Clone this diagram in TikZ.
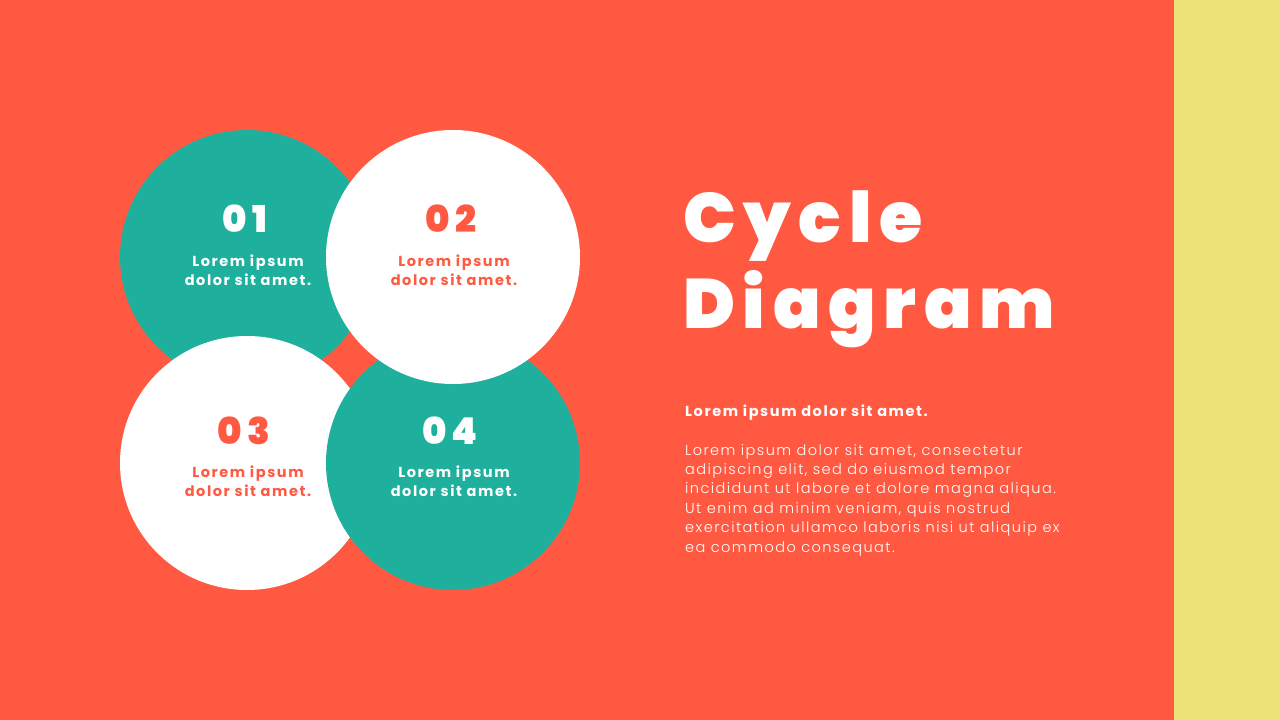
\documentclass[tikz,border=0pt]{standalone}
\usepackage{fontspec}
\setmainfont{Poppins}
\newfontfamily\pblack{Poppins Black}[LetterSpace=11]
\newfontfamily\pnum{Poppins Black}[LetterSpace=14]
\newfontfamily\pbold{Poppins Bold}[LetterSpace=11]
\newfontfamily\plight{Poppins Light}[LetterSpace=10]
\definecolor{coral}{HTML}{FF5A41}
\definecolor{teal}{HTML}{1EB09D}
\definecolor{sand}{HTML}{EDE276}
\begin{document}
\begin{tikzpicture}[x=1pt,y=-1pt,
  disc/.style={circle,minimum size=254pt,inner sep=0pt},
  num/.style={font=\pnum\fontsize{37}{37}\selectfont,anchor=base},
  lbl/.style={font=\pbold\fontsize{14.5}{19}\selectfont,align=center,anchor=north},
  title/.style={font=\pblack\fontsize{70}{70}\selectfont,anchor=base west,text=white,inner sep=0pt},
]
\useasboundingbox (0,0) rectangle (1280,720);
\fill[coral] (0,0) rectangle (1174,720);
\fill[sand] (1174,0) rectangle (1280,720);
% circles in stacking order
\node[disc,fill=teal] (c1) at (247,257) {};
\node[disc,fill=white] (c3) at (247,463) {};
\node[disc,fill=teal] (c4) at (453,463) {};
\node[disc,fill=white] (c2) at (453,257) {};
% numbers
\node[num,text=white] (n1) at (245,232) {01};
\node[num,text=coral] (n2) at (451,232) {02};
\node[num,text=coral] (n3) at (244,444) {03};
\node[num,text=white] (n4) at (450,444) {04};
% labels
\node[lbl,text=white] (l1) at (248,251) {Lorem ipsum\\dolor sit amet.};
\node[lbl,text=coral] (l2) at (454,251) {Lorem ipsum\\dolor sit amet.};
\node[lbl,text=coral] (l3) at (248,462) {Lorem ipsum\\dolor sit amet.};
\node[lbl,text=white] (l4) at (454,462) {Lorem ipsum\\dolor sit amet.};
% title
\node[title] (t1) at (683,242) {Cycle};
\node[title] (t2) at (683,328) {Diagram};
\node[font=\pbold\fontsize{14.5}{19}\selectfont,text=white,anchor=base west,inner sep=0pt] (h) at (685,416) {Lorem ipsum dolor sit amet.};
\node[font=\plight\fontsize{14.5}{19.4}\selectfont,text=white,anchor=north west,inner sep=0pt,align=left] (body) at (685,444)
{Lorem ipsum dolor sit amet, consectetur\\
adipiscing elit, sed do eiusmod tempor\\
incididunt ut labore et dolore magna aliqua.\\
Ut enim ad minim veniam, quis nostrud\\
exercitation ullamco laboris nisi ut aliquip ex\\
ea commodo consequat.};
\end{tikzpicture}
\end{document}
